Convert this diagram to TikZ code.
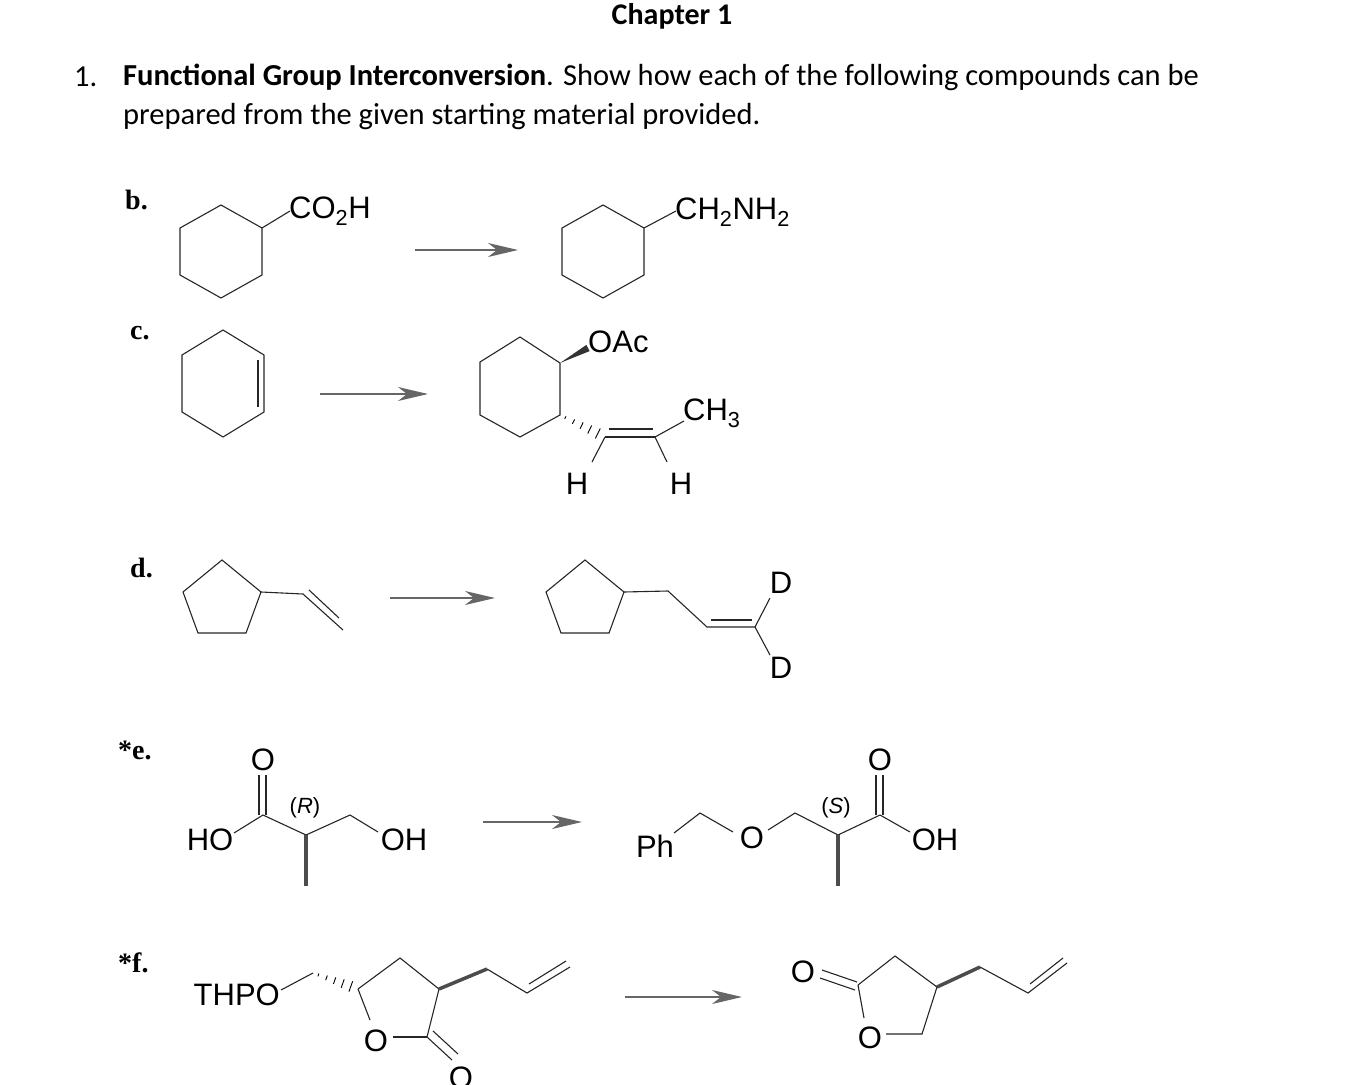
\documentclass[tikz,border=0pt]{standalone}
\usepackage{fontspec}
\setmainfont{Liberation Sans}
\newfontfamily\hdfont{Carlito}
\newfontfamily\labfont{Liberation Serif}
\usetikzlibrary{calc,arrows.meta}
\begin{document}
\begin{tikzpicture}[x=1pt,y=-1pt,
  bond/.style={line width=1.1pt,draw=black!85},
  boldbond/.style={line width=3.5pt,draw=black!70},
  rxn/.style={line width=1.3pt,draw=black!60,-{Stealth[length=30pt,width=14pt,inset=9pt]}},
  chem/.style={inner sep=0pt,font=\fontsize{31}{31}\selectfont},
  lab/.style={inner sep=0pt,anchor=west,font=\fontsize{28}{28}\labfont\bfseries},
  hd/.style={inner sep=0pt,anchor=west,font=\hdfont\fontsize{30.5}{34}\selectfont}]
\useasboundingbox (0,0) rectangle (1354,1084);
\newcommand{\hashb}[2]{\foreach \t/\w in {0.12/1.5,0.3/2.5,0.48/3.5,0.66/4.5,0.84/5.5}{\path (#1) -- (#2) coordinate[pos=\t] (hm); \draw[line width=0.9pt] ($(hm)!\w pt!90:(#2)$) -- ($(hm)!\w pt!-90:(#2)$);}}
% header
\node[font=\hdfont\bfseries\fontsize{30}{34}\selectfont,inner sep=0pt] (title) at (672,16) {Chapter 1};
\node[hd] (num) at (74,77) {1.};
\node[hd] (l1) at (123,77) {\textbf{Functional Group Interconversion}. Show how each of the following compounds can be};
\node[hd] (l2) at (123,117) {prepared from the given starting material provided.};
% labels
\node[lab] (lb) at (125,200) {b.};
\node[lab] (lc) at (130,333) {c.};
\node[lab] (ld) at (130,568) {d.};
\node[lab] (le) at (118,750) {*e.};
\node[lab] (lf) at (118,963) {*f.};
% ---- b
\draw[bond] (221,205)--(262,228)--(262,275)--(221,298)--(180,275)--(180,228)--cycle;
\draw[bond] (262,228)--(290,211);
\node[chem,anchor=west] (b1) at (289,211) {CO\textsubscript{2}H};
\draw[rxn] (415,250)--(518,250);
\draw[bond] (603,205)--(644,228)--(644,275)--(603,298)--(562,275)--(562,228)--cycle;
\draw[bond] (644,228)--(676,211);
\node[chem,anchor=west] (b2) at (675,212) {CH\textsubscript{2}NH\textsubscript{2}};
% ---- c
\draw[bond] (223,330)--(264,355)--(264,412)--(223,437)--(182,412)--(182,355)--cycle;
\draw[bond] (258,360)--(258,407);
\draw[rxn] (320,394)--(428,394);
\coordinate (c1) at (560,363); \coordinate (c2) at (560,415);
\draw[bond] (c1)--(520,337)--(480,362)--(480,415)--(520,437)--(c2)--(c1);
\coordinate (wo) at (588,348);
\fill[black!80] (c1) -- ($(wo)!3.5pt!90:(c1)$) -- ($(wo)!3.5pt!-90:(c1)$) -- cycle;
\node[chem,anchor=west] (oac) at (588,342) {OAc};
\coordinate (d1) at (605,437); \coordinate (d2) at (655,437);
\hashb{c2}{d1}
\draw[bond] (d1)--(d2);
\draw[bond] (609,429)--(653,429);
\draw[bond] (d2)--(684,421);
\node[chem,anchor=west] (ch3) at (683,413) {CH\textsubscript{3}};
\draw[bond] (d1)--(592,462);
\draw[bond] (d2)--(667,462);
\node[chem] (h1) at (577,484) {H};
\node[chem] (h2) at (681,484) {H};
% ---- d
\draw[bond] (222,560)--(261,592)--(246,633)--(198,633)--(183,592)--cycle;
\draw[bond] (261,592)--(303,594)--(343,630);
\draw[bond] (309,590)--(339,618);
\draw[rxn] (390,598)--(495,598);
\draw[bond] (585,560)--(624,592)--(609,633)--(561,633)--(546,592)--cycle;
\draw[bond] (624,592)--(668,591)--(707,627)--(755,627);
\draw[bond] (711,620)--(752,620);
\draw[bond] (755,627)--(770,598);
\draw[bond] (755,627)--(770,655);
\node[chem] (dd1) at (781,583) {D};
\node[chem] (dd2) at (781,668) {D};
% ---- e left
\node[chem] (eo1) at (263,760) {O};
\draw[bond] (259,775)--(259,815); \draw[bond] (266,775)--(266,815);
\draw[bond] (234,833)--(263,815)--(306,835)--(350,815)--(378,832);
\draw[boldbond] (306,835)--(306,886);
\node[chem] (eho) at (210,840) {HO};
\node[chem] (eoh) at (404,840) {OH};
\node[inner sep=0pt,font=\fontsize{22}{22}\selectfont] (er) at (305,808) {(\textit{R})};
\draw[rxn] (483,822)--(582,822);
% ---- e right
\node[chem] (eph) at (655,846) {Ph};
\draw[bond] (674,833)--(700,813)--(733,832);
\node[chem] (eo2) at (752,838) {O};
\draw[bond] (768,830)--(795,813)--(838,835)--(880,815)--(910,832);
\draw[boldbond] (838,835)--(838,886);
\node[chem] (eo3) at (880,760) {O};
\draw[bond] (876,775)--(876,815); \draw[bond] (883,775)--(883,815);
\node[chem] (eoh2) at (935,840) {OH};
\node[inner sep=0pt,font=\fontsize{22}{22}\selectfont] (es) at (836,808) {(\textit{S})};
% ---- f left
\node[chem,anchor=east] (thpo) at (280,995) {THPO};
\coordinate (f0) at (313,973); \coordinate (f5) at (358,989);
\draw[bond] (281,990)--(f0);
\hashb{f0}{f5}
\draw[bond] (f5)--(400,958)--(439,989)--(427,1037);
\draw[bond] (f5)--(370,1020);
\node[chem] (fo1) at (376,1041) {O};
\draw[bond] (393,1037)--(427,1037);
\draw[bond] (427,1037)--(452,1060); \draw[bond] (433,1031)--(458,1054);
\node[chem] (fo2) at (461,1078) {O};
\draw[boldbond] (439,989)--(487,969);
\draw[bond] (487,969)--(527,993)--(570,967);
\draw[bond] (529,984)--(566,961);
\draw[rxn] (625,997)--(742,997);
% ---- f right
\node[chem] (fo3) at (803,972) {O};
\draw[bond] (822,970)--(857,982); \draw[bond] (820,978)--(855,990);
\draw[bond] (858,985)--(895,956)--(937,987)--(922,1034)--(886,1034);
\draw[bond] (858,985)--(864,1018);
\node[chem] (fo4) at (870,1038) {O};
\draw[boldbond] (937,987)--(980,967);
\draw[bond] (980,967)--(1028,993)--(1067,963);
\draw[bond] (1030,984)--(1063,958);
\end{tikzpicture}
\end{document}
